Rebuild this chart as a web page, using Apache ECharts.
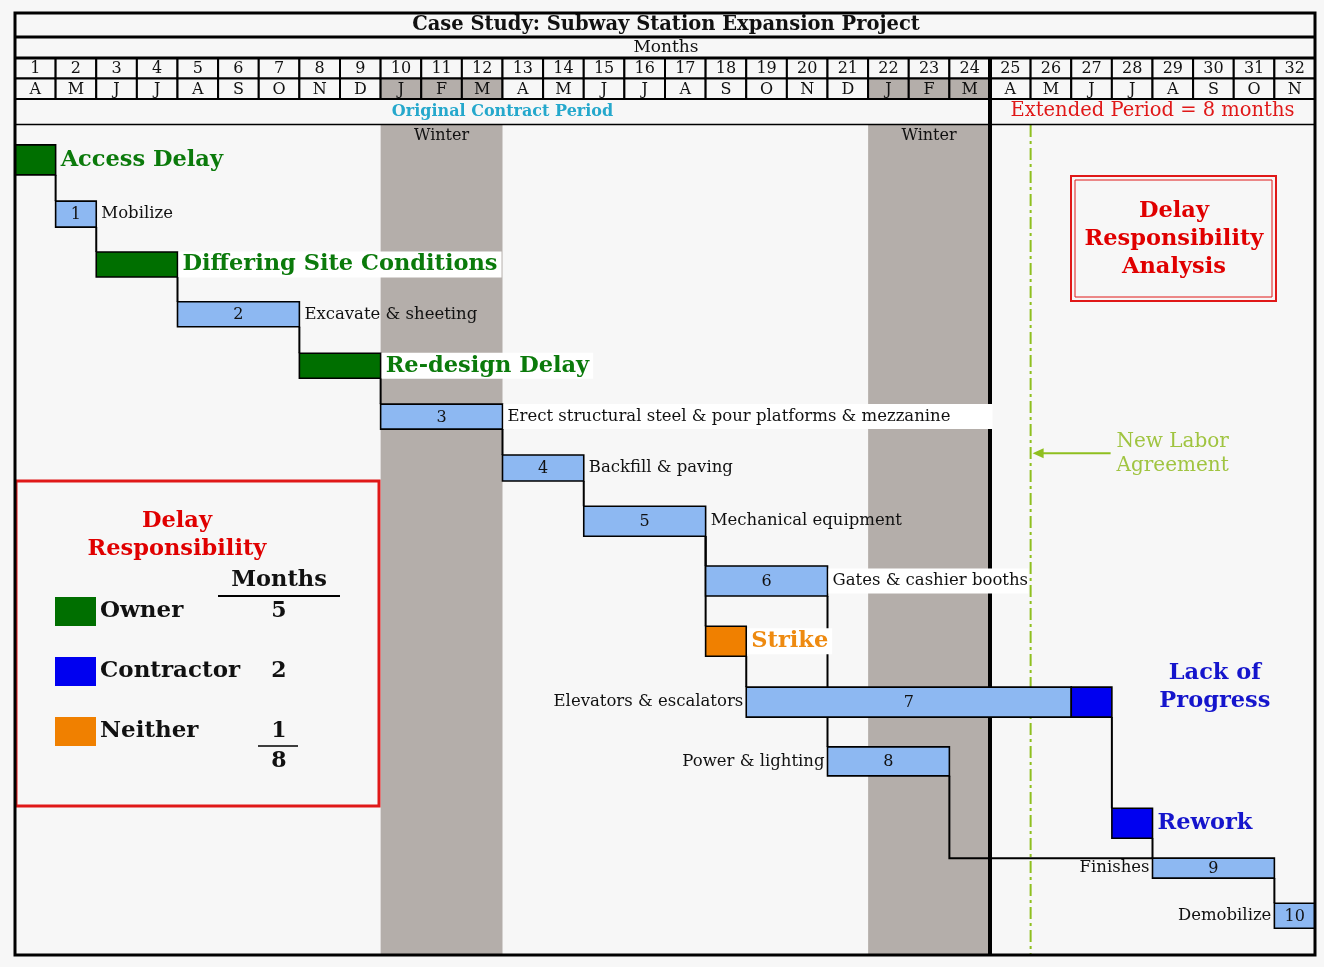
<!DOCTYPE html>
<html>
<head>
<meta charset="utf-8">
<script src="https://cdn.jsdelivr.net/npm/echarts@6/dist/echarts.min.js"></script>
<style>
html,body{margin:0;padding:0;background:#f7f7f7;}
#chart{width:1324px;height:967px;}
</style>
</head>
<body>
<div id="chart"></div>
<script>
// months header
const monthNums = [1,2,3,4,5,6,7,8,9,10,11,12,13,14,15,16,17,18,19,20,21,22,23,24,25,26,27,28,29,30,31,32];
const monthLetters = ['A','M','J','J','A','S','O','N','D','J','F','M','A','M','J','J','A','S','O','N','D','J','F','M','A','M','J','J','A','S','O','N'];
const winterStart = [9, 21];
const winterEnd = [12, 24];
const contractEnd = 24;
const laborAgreement = 25;

// activities and delays (months elapsed, lane on the y axis)
const taskNames = ['Access Delay','Mobilize','Differing Site Conditions','Excavate & sheeting','Re-design Delay',
  'Erect structural steel & pour platforms & mezzanine','Backfill & paving','Mechanical equipment','Gates & cashier booths',
  'Strike','Elevators & escalators','Lack of\nProgress','Power & lighting','Rework','Finishes','Demobilize'];
const taskNum = ['','1','','2','','3','4','5','6','','7','','8','','9','10'];
const taskKind = ['owner','work','owner','work','owner','work','work','work','work','neither','work','contractor','work','contractor','work','work'];
const taskStart = [0,1,2,4,7,9,12,14,17,17,18,26,20,27,28,31];
const taskEnd   = [1,2,4,7,9,12,14,17,20,18,26,27,23,28,31,32];
const taskLane  = [0.63,1.61,2.52,3.42,4.35,5.27,6.20,7.16,8.24,9.33,10.43,10.43,11.50,12.62,13.43,14.29];
const taskPred  = [[],[0],[1],[2],[3],[4],[5],[6],[7],[7],[9],[],[8],[11],[12,13],[14]];

// delay responsibility summary
const partyKinds = ['owner','contractor','neither'];
const partyNames = ['Owner','Contractor','Neither'];
const partyMonths = [5, 2, 1];
const totalMonths = 8;

const SERIF = '"DejaVu Serif", "Liberation Serif", serif';
const GL = 15, GW = 1300, NM = 32;
const mx = m => GL + m * GW / NM;

// styles
const barHeight = [30,26,25,25,25,25,26,30,30,30,30,30,29,30,20,25];
const labelSide = ['right','right','right','right','right','right','right','right','right','right','left','float','left','right','left','left'];
const labelBg   = [0,0,1,0,1,1,0,0,1,1,0,0,0,0,0,0];
const labelPadRight = {5: 42, 8: 0.5};
const kindFill = {owner:'#006f00', contractor:'#0000f0', neither:'#f08000', work:'#8db8f2'};
const kindText = {owner:'#0b7a0b', contractor:'#1515cc', neither:'#ee8a10', work:'#111'};
const GRAY = '#b4aeaa';

function isWinter(i) {
  for (let k = 0; k < winterStart.length; k++) if (i >= winterStart[k] && i < winterEnd[k]) return true;
  return false;
}

const chart = echarts.init(document.getElementById('chart'));

function renderHeader(params, api) {
  const i = api.value(0);
  const a = api.coord([i, 0]);
  const b = api.coord([i + 1, 1]);
  const c = api.coord([i + 1, 2]);
  return {type:'group', children:[
    {type:'rect', shape:{x:a[0], y:a[1], width:b[0]-a[0], height:b[1]-a[1]}, style:{fill:'#f7f7f7', stroke:'#000', lineWidth:2}},
    {type:'rect', shape:{x:a[0], y:b[1], width:b[0]-a[0], height:c[1]-b[1]}, style:{fill:isWinter(i) ? GRAY : '#f7f7f7', stroke:'#000', lineWidth:2}},
    {type:'text', style:{text:String(api.value(1)), x:(a[0]+b[0])/2, y:(a[1]+b[1])/2+1, align:'center', verticalAlign:'middle', font:'16px '+SERIF, fill:'#111'}},
    {type:'text', style:{text:monthLetters[i], x:(a[0]+b[0])/2, y:(b[1]+c[1])/2+1, align:'center', verticalAlign:'middle', font:'16px '+SERIF, fill:'#111'}}
  ]};
}

function renderWinter(params, api) {
  const a = api.coord([api.value(0), 0]);
  const b = api.coord([api.value(1), 15]);
  return {type:'group', children:[
    {type:'rect', shape:{x:a[0], y:a[1], width:b[0]-a[0], height:b[1]-a[1]}, style:{fill:GRAY}},
    {type:'text', style:{text:'Winter', x:(a[0]+b[0])/2, y:a[1]+11, align:'center', verticalAlign:'middle', font:'16px '+SERIF, fill:'#111'}}
  ]};
}

function renderContract(params, api) {
  const a = api.coord([api.value(0), 0]);
  const b = api.coord([api.value(0), 15]);
  return {type:'line', shape:{x1:a[0], y1:a[1], x2:b[0], y2:b[1]}, style:{stroke:'#000', lineWidth:4}};
}

function renderLinks(params, api) {
  const i = params.dataIndex;
  const children = [];
  const me = api.coord([taskStart[i], taskLane[i]]);
  const top = me[1] - barHeight[i] / 2;
  taskPred[i].forEach(p => {
    const pe = api.coord([taskEnd[p], taskLane[p]]);
    const bottom = pe[1] + barHeight[p] / 2;
    children.push({type:'polyline', shape:{points:[[pe[0], bottom], [pe[0], top], [me[0], top]]}, style:{stroke:'#000', lineWidth:2, fill:null}});
  });
  return {type:'group', children};
}

function renderTask(params, api) {
  const i = params.dataIndex;
  const lane = api.value(2);
  const a = api.coord([api.value(0), lane]);
  const b = api.coord([api.value(1), lane]);
  const h = barHeight[i];
  const kind = taskKind[i];
  const children = [{type:'rect', shape:{x:a[0], y:a[1]-h/2, width:b[0]-a[0], height:h}, style:{fill:kindFill[kind], stroke:'#000', lineWidth:1.6}}];
  if (taskNum[i]) {
    children.push({type:'text', style:{text:taskNum[i], x:(a[0]+b[0])/2, y:a[1]+1, align:'center', verticalAlign:'middle', font:'16px '+SERIF, fill:'#111'}});
  }
  const delay = kind !== 'work';
  const st = {text:taskNames[i], font:(delay ? 'bold 22.5px ' : '16.5px ') + SERIF, fill:kindText[kind], verticalAlign:'middle', y:a[1]};
  const side = labelSide[i];
  if (side === 'right') { st.x = b[0] + 1; st.align = 'left'; st.padding = [0, 0, 0, 4]; }
  else if (side === 'left') { st.x = a[0] - 3; st.align = 'right'; }
  else { st.x = b[0] + 103; st.y = a[1] - 15; st.align = 'center'; st.lineHeight = 28; }
  if (labelBg[i]) {
    st.backgroundColor = '#ffffff';
    st.padding = delay ? [2, 4, 1, 4] : [4, labelPadRight[i] || 4, 4, 4];
  }
  children.push({type:'text', style:st});
  return {type:'group', children};
}

function renderLabor(params, api) {
  const a = api.coord([api.value(0), 0]);
  const b = api.coord([api.value(0), 15]);
  const ay = api.coord([api.value(0), 5.93])[1];
  const x = a[0];
  return {type:'group', children:[
    {type:'line', shape:{x1:x, y1:a[1], x2:x, y2:b[1]}, style:{stroke:'#8fbf1f', lineWidth:2, lineDash:[12,4,3,4]}},
    {type:'line', shape:{x1:x+80, y1:ay, x2:x+8, y2:ay}, style:{stroke:'#8fbf1f', lineWidth:2}},
    {type:'polygon', shape:{points:[[x+2, ay], [x+13, ay-5], [x+13, ay+5]]}, style:{fill:'#8fbf1f'}},
    {type:'text', style:{text:'New Labor\nAgreement', x:x+142, y:ay+1, align:'center', verticalAlign:'middle', lineHeight:24, font:'20px '+SERIF, fill:'#a0c440'}}
  ]};
}

// static decorations
const graphics = [
  {type:'text', z:30, style:{text:'Case Study: Subway Station Expansion Project', x:666, y:25, align:'center', verticalAlign:'middle', font:'bold 19.5px '+SERIF, fill:'#111'}},
  {type:'text', z:30, style:{text:'Months', x:666, y:48, align:'center', verticalAlign:'middle', font:'17px '+SERIF, fill:'#111'}},
  {type:'text', z:30, style:{text:'Original Contract Period', x:mx(contractEnd/2), y:112, align:'center', verticalAlign:'middle', font:'bold 16px '+SERIF, fill:'#25a8cc'}},
  {type:'text', z:30, style:{text:'Extended Period = ' + (NM - contractEnd) + ' months', x:mx((contractEnd+NM)/2), y:111, align:'center', verticalAlign:'middle', font:'19.5px '+SERIF, fill:'#e01818'}},
  {type:'line', z:30, shape:{x1:GL, y1:37, x2:GL+GW, y2:37}, style:{stroke:'#000', lineWidth:3}},
  {type:'line', z:30, shape:{x1:GL, y1:58, x2:GL+GW, y2:58}, style:{stroke:'#000', lineWidth:3}},
  {type:'line', z:30, shape:{x1:GL, y1:124.5, x2:GL+GW, y2:124.5}, style:{stroke:'#000', lineWidth:1.5}},
  {type:'line', z:30, shape:{x1:mx(contractEnd), y1:58, x2:mx(contractEnd), y2:125}, style:{stroke:'#000', lineWidth:4}},
  {type:'rect', z:40, shape:{x:GL, y:13, width:GW, height:942}, style:{fill:null, stroke:'#000', lineWidth:3}},
  // analysis box
  {type:'rect', z:30, shape:{x:1071, y:176, width:205, height:125}, style:{fill:null, stroke:'#e01818', lineWidth:2}},
  {type:'rect', z:30, shape:{x:1075, y:180, width:197, height:117}, style:{fill:null, stroke:'#e01818', lineWidth:1}},
  {type:'text', z:30, style:{text:'Delay\nResponsibility\nAnalysis', x:1174, y:239, align:'center', verticalAlign:'middle', lineHeight:28, font:'bold 22.5px '+SERIF, fill:'#e00000'}},
  // summary box
  {type:'rect', z:30, shape:{x:16, y:481, width:363, height:325}, style:{fill:'#f7f7f7', stroke:'#e01818', lineWidth:3}},
  {type:'text', z:31, style:{text:'Delay\nResponsibility', x:177, y:535, align:'center', verticalAlign:'middle', lineHeight:28, font:'bold 22.5px '+SERIF, fill:'#e00000'}},
  {type:'text', z:31, style:{text:'Months', x:279, y:580, align:'center', verticalAlign:'middle', font:'bold 22.5px '+SERIF, fill:'#111'}},
  {type:'line', z:31, shape:{x1:218, y1:596, x2:340, y2:596}, style:{stroke:'#000', lineWidth:2}},
  {type:'line', z:31, shape:{x1:258, y1:746, x2:298, y2:746}, style:{stroke:'#000', lineWidth:1.5}},
  {type:'text', z:31, style:{text:String(totalMonths), x:279, y:761, align:'center', verticalAlign:'middle', font:'bold 22px '+SERIF, fill:'#111'}}
];
partyNames.forEach((name, k) => {
  const yc = 611 + k * 60;
  graphics.push({type:'rect', z:31, shape:{x:55, y:yc-14, width:41, height:29}, style:{fill:kindFill[partyKinds[k]]}});
  graphics.push({type:'text', z:31, style:{text:name, x:100, y:yc, align:'left', verticalAlign:'middle', font:'bold 23px '+SERIF, fill:'#111'}});
  graphics.push({type:'text', z:31, style:{text:String(partyMonths[k]), x:279, y:yc, align:'center', verticalAlign:'middle', font:'bold 22px '+SERIF, fill:'#111'}});
});

const taskData = taskNames.map((n, i) => [taskStart[i], taskEnd[i], taskLane[i]]);

chart.setOption({
  animation: false,
  backgroundColor: '#f7f7f7',
  grid: [
    {left: GL, top: 125, width: GW, height: 830},
    {left: GL, top: 58, width: GW, height: 41}
  ],
  xAxis: [
    {type:'value', min:0, max:NM, show:false, gridIndex:0},
    {type:'value', min:0, max:NM, show:false, gridIndex:1}
  ],
  yAxis: [
    {type:'value', min:0, max:15, inverse:true, show:false, gridIndex:0},
    {type:'value', min:0, max:2, inverse:true, show:false, gridIndex:1}
  ],
  graphic: graphics,
  series: [
    {type:'custom', name:'months', xAxisIndex:1, yAxisIndex:1, z:2, renderItem:renderHeader,
      data: monthNums.map((n, i) => [i, n])},
    {type:'custom', name:'winter', z:1, renderItem:renderWinter, clip:false,
      data: winterStart.map((s, k) => [s, winterEnd[k]])},
    {type:'custom', name:'contract', z:2, renderItem:renderContract, data:[[contractEnd]]},
    {type:'custom', name:'labor', z:3, renderItem:renderLabor, clip:false, data:[[laborAgreement]]},
    {type:'custom', name:'links', z:3, renderItem:renderLinks, data:taskData},
    {type:'custom', name:'tasks', z:4, renderItem:renderTask, clip:false, data:taskData}
  ]
});
</script>
</body>
</html>
